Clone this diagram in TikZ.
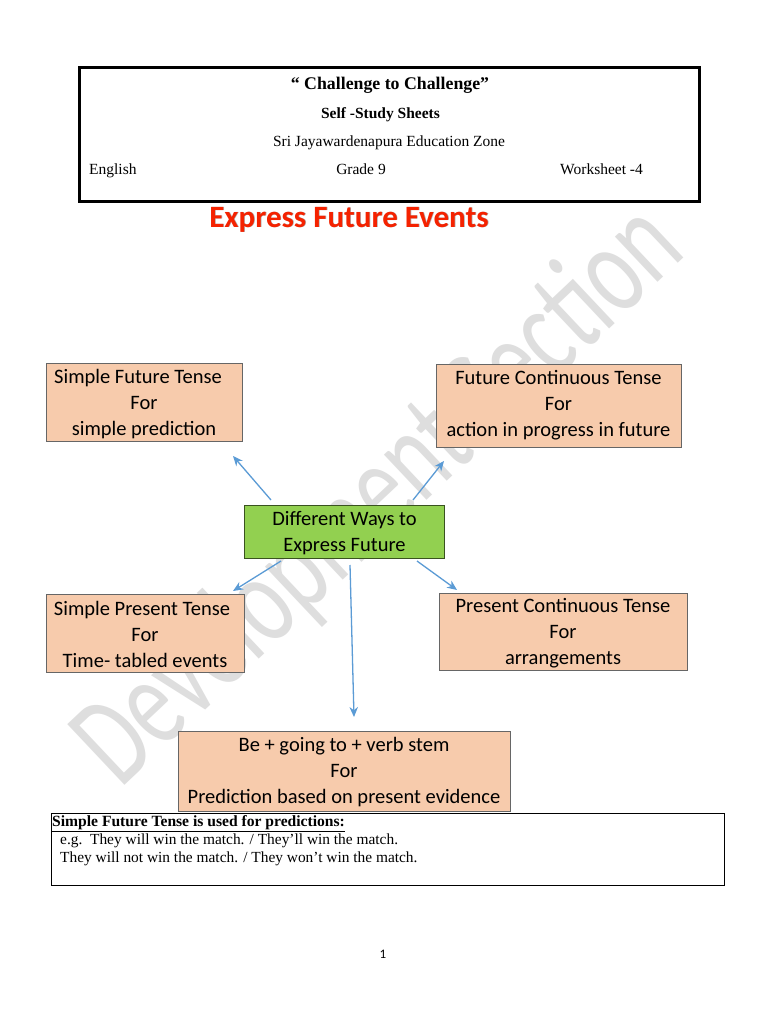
\documentclass[tikz,border=0pt]{standalone}
\usepackage{fontspec}
\setmainfont{Liberation Serif}
\newfontfamily\calfont{Carlito}
\usetikzlibrary{arrows.meta}
\definecolor{peach}{HTML}{F7CBAC}
\definecolor{leaf}{HTML}{92D050}
\definecolor{arrowblue}{HTML}{5B9BD5}
\definecolor{edgegray}{HTML}{666666}
\definecolor{wmgray}{HTML}{DEDEDE}
\definecolor{titlered}{HTML}{F52200}
\newcommand{\firstln}[1]{\rule{0pt}{#1pt}}
\newcommand{\lastln}{\rule[-5pt]{0pt}{5pt}}
\tikzset{
  x=1pt,y=-1pt,
  tense/.style={draw=edgegray,line width=1pt,fill=peach,align=center,inner sep=0pt,
    font=\calfont\fontsize{20.5}{25.8}\selectfont,text=black},
  hub/.style={tense,fill=leaf,draw=black!60!leaf},
  link/.style={draw=arrowblue,line width=1.3pt,-{Stealth[length=10pt,width=8.5pt]}},
  serifline/.style={anchor=base,inner sep=0pt,font=\fontsize{15.5}{18}\selectfont},
}
\begin{document}
\begin{tikzpicture}
\useasboundingbox (0,0) rectangle (768,1024);
\fill[white] (0,0) rectangle (768,1024);
% watermark
\node[anchor=base,rotate=43.3,text=wmgray,inner sep=0pt,font=\calfont\fontsize{130}{130}\selectfont] (wm) at (404.5,522) {\scalebox{0.69}[1]{Development Section}};
% header
\node[draw=black,line width=3pt,fill=none,minimum width=620pt,minimum height=134pt,inner sep=0pt] (head) at (389,135) {};
\node[serifline,font=\bfseries\fontsize{17.8}{20}\selectfont] (h1) at (390,90) {“ Challenge to Challenge”};
\node[serifline,font=\bfseries\fontsize{15.5}{18}\selectfont] (h2) at (380.5,119) {Self -Study Sheets};
\node[serifline] (h3) at (389,147) {Sri Jayawardenapura Education Zone};
\node[serifline,anchor=base west] (h4) at (89,175) {English};
\node[serifline] (h5) at (361,175) {Grade 9};
\node[serifline,anchor=base west] (h6) at (560,175) {Worksheet -4};
% title
\node[anchor=base,inner sep=0pt,text=black!30,font=\calfont\bfseries\fontsize{31}{32}\selectfont] (title2) at (349.7,227.7) {Express Future Events};
\node[anchor=base,inner sep=0pt,text=titlered,font=\calfont\bfseries\fontsize{31}{32}\selectfont] (title) at (349,227) {Express Future Events};
% boxes
\node[tense,minimum width=196pt,minimum height=78pt] (sf) at (144,402) {\firstln{19.4}\hspace*{-12pt}Simple Future Tense\\For\\simple prediction\lastln};
\node[tense,minimum width=245pt,minimum height=83pt] (fc) at (558.5,405.5) {\firstln{14.4}Future Continuous Tense\\For\\action in progress in future\lastln};
\node[hub,minimum width=200.5pt,minimum height=53pt] (hubbox) at (344.5,531.5) {\firstln{18.6}Different Ways to\\Express Future\lastln};
\node[tense,minimum width=198pt,minimum height=78pt] (sp) at (145,633) {\firstln{21.4}\hspace*{-6pt}Simple Present Tense\\For\\Time- tabled events\lastln};
\node[tense,minimum width=248pt,minimum height=77pt] (pc) at (563,631.5) {\firstln{18.4}Present Continuous Tense\\For\\arrangements\lastln};
\node[tense,minimum width=332pt,minimum height=80pt] (be) at (344,771) {\firstln{17.4}Be + going to + verb stem\\For\\Prediction based on present evidence\lastln};
% arrows
\coordinate (a1s) at (271,500); \coordinate (a1e) at (233,456);
\coordinate (a2s) at (413,500); \coordinate (a2e) at (444,461);
\coordinate (a3s) at (281,561); \coordinate (a3e) at (233,591);
\coordinate (a4s) at (417,561); \coordinate (a4e) at (457,590);
\coordinate (a5s) at (350,565); \coordinate (a5e) at (354,717);
\draw[link] (a1s) -- (a1e);
\draw[link] (a2s) -- (a2e);
\draw[link] (a3s) -- (a3e);
\draw[link] (a4s) -- (a4e);
\draw[link] (a5s) -- (a5e);
% bottom note
\node[draw=black,line width=1pt,minimum width=673pt,minimum height=72pt,inner sep=0pt] (note) at (387.5,849) {};
\node[serifline,anchor=base west,font=\bfseries\fontsize{15.6}{18}\selectfont] (n1) at (52,826.5) {\underline{Simple Future Tense is used for predictions:}};
\node[serifline,anchor=base west,font=\fontsize{15.4}{18}\selectfont] (n2) at (60,844) {e.g.\ \ They will win the match. / They’ll win the match.};
\node[serifline,anchor=base west,font=\fontsize{15.4}{18}\selectfont] (n3) at (60,862) {They will not win the match. / They won’t win the match.};
\node[anchor=base,inner sep=0pt,font=\calfont\fontsize{13}{15}\selectfont] (page) at (383,958) {1};
\end{tikzpicture}
\end{document}
